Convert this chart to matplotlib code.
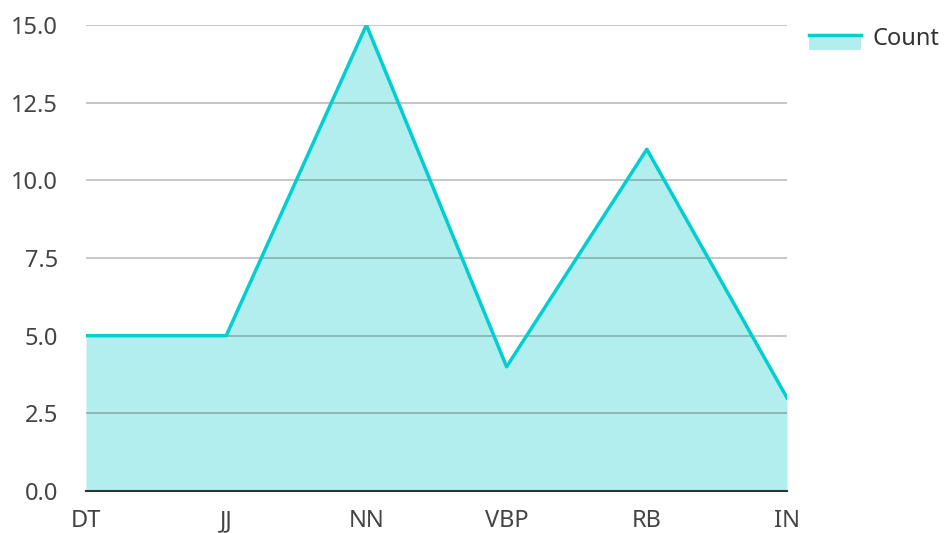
import matplotlib.pyplot as plt
from matplotlib.lines import Line2D
from matplotlib.patches import Rectangle

plt.rcParams['font.family'] = ['Noto Sans', 'DejaVu Sans']

categories = ["DT", "JJ", "NN", "VBP", "RB", "IN"]
counts = [5, 5, 15, 4, 11, 3]
yticks = [0, 2.5, 5, 7.5, 10, 12.5, 15]

line_color = "#00CED1"
fill_color = "#B2EEEE"


class AreaHandler:
    # legend key: filled box with the line along its top edge
    def legend_artist(self, legend, orig_handle, fontsize, handlebox):
        x0, y0 = handlebox.xdescent, handlebox.ydescent
        w, h = handlebox.width, handlebox.height
        rect = Rectangle((x0, y0 - 0.35 * h), w, h * 0.9,
                         facecolor=fill_color, edgecolor="none",
                         transform=handlebox.get_transform())
        line = Line2D([x0, x0 + w], [y0 + 0.55 * h, y0 + 0.55 * h],
                      color=line_color, linewidth=2.5,
                      transform=handlebox.get_transform())
        handlebox.add_artist(rect)
        handlebox.add_artist(line)
        return rect


fig = plt.figure(figsize=(9.44, 5.33), dpi=100)
ax = fig.add_axes([0.0911, 0.0788, 0.7426, 0.8743])

x = range(len(categories))
area = ax.fill_between(x, counts, 0, color=fill_color, linewidth=0, zorder=1)
ax.plot(x, counts, color=line_color, linewidth=2.5, zorder=3)

ax.set_xlim(0, len(categories) - 1)
ax.set_ylim(0, 15)
ax.set_xticks(list(x))
ax.set_xticklabels(categories)
ax.set_yticks(yticks)
ax.set_yticklabels([f"{v:.1f}" for v in yticks])

for v in yticks[1:]:
    ax.axhline(v, color="black", alpha=0.22, linewidth=1.4, zorder=2)
for s in ["top", "right", "left"]:
    ax.spines[s].set_visible(False)
ax.spines["bottom"].set_color("#333333")
ax.spines["bottom"].set_linewidth(1.5)
ax.spines["bottom"].set_zorder(4)

ax.tick_params(axis="both", length=0, labelsize=17, labelcolor="#444444")
ax.tick_params(axis="x", pad=13)
ax.tick_params(axis="y", pad=20)

leg = fig.legend([area], ["Count"], loc="upper right",
                 bbox_to_anchor=(1.018, 0.99), frameon=False,
                 fontsize=17, handlelength=2.2, handletextpad=0.5,
                 handler_map={type(area): AreaHandler()})
for t in leg.get_texts():
    t.set_color("#333333")

fig.savefig("out.png", dpi=100)
